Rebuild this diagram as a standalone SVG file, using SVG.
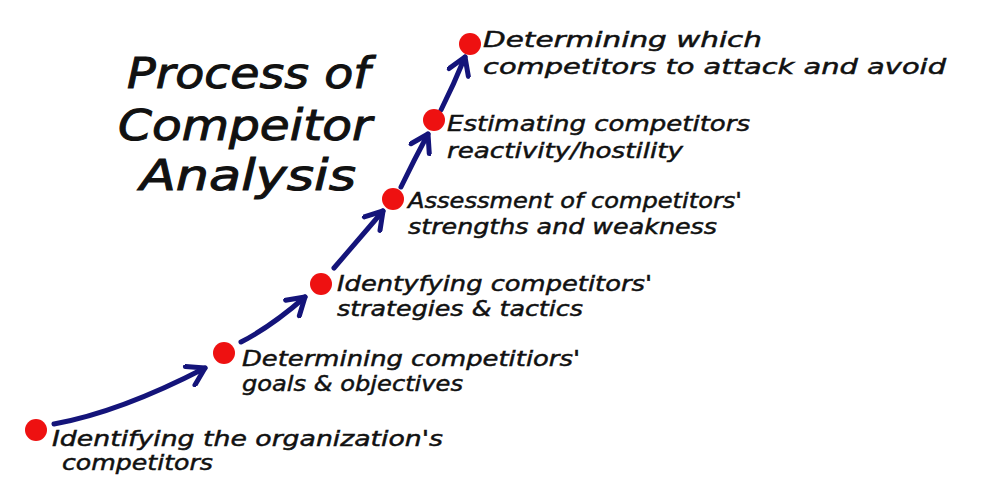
<svg xmlns="http://www.w3.org/2000/svg" width="992" height="496" viewBox="0 0 992 496">
<style>
.lbl{font-family:"DejaVu Sans",sans-serif;font-style:italic;font-size:22px;fill:#111;stroke:#111;stroke-width:0.5}
.ttl{font-family:"DejaVu Sans",sans-serif;font-style:italic;font-size:42px;fill:#111;stroke:#111;stroke-width:1}
.dot{fill:#ee1111}
.arr{fill:none;stroke:#14147a;stroke-width:5;stroke-linecap:round;marker-end:url(#head)}
</style>
<defs>
<marker id="head" viewBox="0 0 12 12" refX="10" refY="6" markerWidth="5" markerHeight="5" orient="auto" markerUnits="strokeWidth">
<path d="M2,1 L10,6 L2,11" fill="none" stroke="#14147a" stroke-width="2.4" stroke-linecap="round" stroke-linejoin="round"/>
</marker>
</defs>
<rect width="992" height="496" fill="#fff"/>
<g id="title">
<text class="ttl" x="127" y="88" textLength="243" lengthAdjust="spacingAndGlyphs">Process of</text>
<text class="ttl" x="118" y="140" textLength="254" lengthAdjust="spacingAndGlyphs">Compeitor</text>
<text class="ttl" x="140" y="190" textLength="216" lengthAdjust="spacingAndGlyphs">Analysis</text>
</g>
<g id="connectors">
<path class="arr" d="M54,424 Q120,412 205,368"/>
<path class="arr" d="M241,342 Q272,326 305,297"/>
<path class="arr" d="M334,268 Q358,240 383,211"/>
<path class="arr" d="M401,187 Q414,160 428,134"/>
<path class="arr" d="M441,110 Q454,84 465,57"/>
</g>
<g id="n1">
<circle class="dot" cx="36" cy="430" r="11"/>
<text class="lbl" x="52" y="446" textLength="391" lengthAdjust="spacingAndGlyphs">Identifying the organization's</text>
<text class="lbl" x="62" y="470" textLength="151" lengthAdjust="spacingAndGlyphs">competitors</text>
</g>
<g id="n2">
<circle class="dot" cx="224" cy="353" r="11"/>
<text class="lbl" x="242" y="366" textLength="338" lengthAdjust="spacingAndGlyphs">Determining competitiors'</text>
<text class="lbl" x="242" y="391" textLength="221" lengthAdjust="spacingAndGlyphs">goals &amp; objectives</text>
</g>
<g id="n3">
<circle class="dot" cx="321" cy="284" r="11"/>
<text class="lbl" x="337" y="291" textLength="315" lengthAdjust="spacingAndGlyphs">Identyfying competitors'</text>
<text class="lbl" x="337" y="316" textLength="246" lengthAdjust="spacingAndGlyphs">strategies &amp; tactics</text>
</g>
<g id="n4">
<circle class="dot" cx="393" cy="199" r="11"/>
<text class="lbl" x="408" y="208" textLength="334" lengthAdjust="spacingAndGlyphs">Assessment of competitors'</text>
<text class="lbl" x="408" y="234" textLength="309" lengthAdjust="spacingAndGlyphs">strengths and weakness</text>
</g>
<g id="n5">
<circle class="dot" cx="434" cy="120" r="11"/>
<text class="lbl" x="447" y="131" textLength="303" lengthAdjust="spacingAndGlyphs">Estimating competitors</text>
<text class="lbl" x="447" y="158" textLength="236" lengthAdjust="spacingAndGlyphs">reactivity/hostility</text>
</g>
<g id="n6">
<circle class="dot" cx="470" cy="44" r="11"/>
<text class="lbl" x="483" y="47" textLength="279" lengthAdjust="spacingAndGlyphs">Determining which</text>
<text class="lbl" x="483" y="74" textLength="463" lengthAdjust="spacingAndGlyphs">competitors to attack and avoid</text>
</g>
</svg>
